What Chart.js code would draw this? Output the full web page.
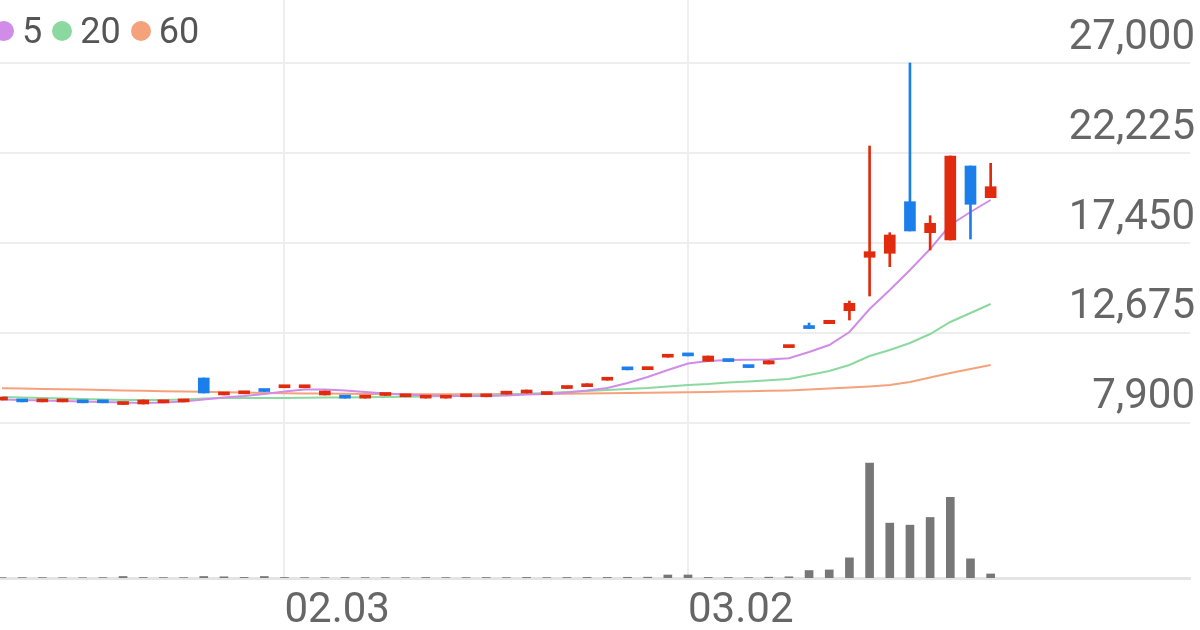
<!DOCTYPE html>
<html>
<head>
<meta charset="utf-8">
<script src="https://cdn.jsdelivr.net/npm/chart.js@4"></script>
<style>
  html, body { margin: 0; padding: 0; background: #fff; }
  #wrap { position: relative; width: 1200px; height: 630px; overflow: hidden; }
  #legend { position: absolute; left: -6px; top: 10px; display: flex; align-items: center;
            font-family: Roboto, sans-serif; font-size: 36px; line-height: 42px; color: #555; }
  .item { display: flex; align-items: center; margin-right: 10px; }
  .dot { width: 20px; height: 20px; border-radius: 50%; margin-right: 8px; }
</style>
</head>
<body>
<div id="wrap">
  <canvas id="chart"></canvas>
  <div id="legend"></div>
</div>
<script>
// daily candles, oldest first
const open  = [9120, 9110, 9020, 9020, 9060, 9060, 8880, 8908, 8970, 9020,
               10288, 9390, 9450, 9660, 9770, 9770, 9386, 9310, 9220, 9360,
               9290, 9220, 9220, 9290, 9290, 9430, 9492, 9410, 9730, 9826,
               10170, 10810, 10730, 11390, 11550, 11174, 11250, 10930, 11030, 11900,
               13000, 13169, 13858, 16692, 16904, 19642, 17997, 17609, 21536, 19854];
const close = [9220, 9020, 9110, 9110, 8970, 8970, 8970, 9120, 9060, 9110,
               9492, 9480, 9540, 9570, 9850, 9850, 9598, 9220, 9310, 9450,
               9380, 9310, 9310, 9380, 9380, 9520, 9651, 9500, 9820, 9985,
               10260, 10720, 10830, 11490, 11460, 11455, 11160, 10840, 11205, 11990,
               12910, 13349, 14251, 16989, 17875, 18088, 18496, 22066, 19504, 20437];
const high  = [9220, 9110, 9110, 9110, 9060, 9060, 8970, 9120, 9060, 9110,
               10288, 9480, 9540, 9660, 9850, 9850, 9598, 9310, 9310, 9450,
               9380, 9310, 9310, 9380, 9380, 9520, 9651, 9500, 9820, 9985,
               10260, 10810, 10830, 11490, 11550, 11455, 11250, 10930, 11205, 11990,
               13206, 13349, 14373, 22597, 17997, 27000, 18899, 22066, 21536, 21679];
const low   = [9120, 9020, 9020, 9020, 8970, 8970, 8880, 8908, 8970, 9020,
               9492, 9390, 9450, 9570, 9770, 9770, 9386, 9220, 9220, 9360,
               9290, 9220, 9220, 9290, 9290, 9430, 9492, 9410, 9730, 9826,
               10170, 10720, 10730, 11390, 11460, 11174, 11160, 10840, 11030, 11900,
               12910, 13169, 13365, 14638, 16193, 18088, 17079, 17609, 17662, 19854];
const volume = [40, 40, 40, 30, 30, 40, 150, 50, 40, 40,
                150, 120, 60, 150, 50, 40, 40, 50, 40, 40,
                40, 50, 40, 40, 50, 40, 60, 40, 50, 60,
                60, 70, 80, 300, 300, 60, 50, 40, 80, 120,
                740, 800, 2000, 11400, 5440, 5240, 6000, 8000, 1900, 400];

// moving averages
const ma5  = [9147, 9120, 9094, 9067, 9041, 9014, 8988, 8961, 8988, 9041,
              9147, 9253, 9333, 9439, 9571, 9678, 9678, 9624, 9545, 9465,
              9412, 9359, 9333, 9333, 9333, 9359, 9412, 9439, 9518, 9624,
              9757, 10022, 10341, 10712, 11057, 11190, 11243, 11253, 11269, 11333,
              11667, 12039, 12728, 13949, 14957, 16018, 17132, 18406, 19096, 19732];
const ma20 = [9280, 9253, 9227, 9200, 9173, 9147, 9120, 9120, 9120, 9147,
              9200, 9227, 9227, 9227, 9227, 9237, 9248, 9258, 9269, 9280,
              9290, 9306, 9333, 9359, 9386, 9412, 9449, 9492, 9545, 9598,
              9651, 9704, 9757, 9837, 9916, 9969, 10049, 10102, 10166, 10235,
              10447, 10659, 10977, 11455, 11773, 12145, 12622, 13259, 13737, 14214];
const ma60 = [9741, 9725, 9709, 9693, 9672, 9651, 9630, 9609, 9587, 9571,
              9555, 9534, 9513, 9497, 9481, 9471, 9460, 9449, 9439, 9433,
              9428, 9423, 9423, 9423, 9428, 9433, 9439, 9444, 9455, 9465,
              9481, 9492, 9502, 9518, 9534, 9550, 9566, 9587, 9609, 9630,
              9672, 9725, 9778, 9837, 9916, 10075, 10314, 10553, 10765, 10977];

const priceTicks = [7900, 12675, 17450, 22225, 27000];
const xTickIdx = [14, 34];
const xTickLabels = ['02.03', '03.02'];
const maNames = ['5', '20', '60'];
const maColors = ['#d18ce8', '#8cd9a0', '#f4a27c'];

const RED = '#e02b0e', BLUE = '#1a7fea';
const idx = open.map((_, i) => i);
const candleColor = idx.map(i => close[i] >= open[i] ? RED : BLUE);
const fmt = v => String(v).replace(/\B(?=(\d{3})+(?!\d))/g, ',');

// legend
const legend = document.getElementById('legend');
maNames.forEach((n, k) => {
  const it = document.createElement('div');
  it.className = 'item';
  it.innerHTML = '<span class="dot" style="background:' + maColors[k] + '"></span><span>' + n + '</span>';
  legend.appendChild(it);
});

const font = { family: 'Roboto', size: 42 };

new Chart(document.getElementById('chart'), {
  data: {
    datasets: [
      { type: 'bar', label: 'body', data: idx.map(i => ({ x: i, y: [open[i], close[i]] })),
        backgroundColor: candleColor, barThickness: 11, minBarLength: 3, grouped: false, yAxisID: 'y', order: 0 },
      { type: 'bar', label: 'wick', data: idx.map(i => ({ x: i, y: [low[i], high[i]] })),
        backgroundColor: candleColor, barThickness: 2, grouped: false, yAxisID: 'y', order: 1 },
      { type: 'line', label: maNames[0], data: idx.map(i => ({ x: i, y: ma5[i] })),
        borderColor: maColors[0], borderWidth: 2, pointRadius: 0, yAxisID: 'y', order: 2 },
      { type: 'line', label: maNames[1], data: idx.map(i => ({ x: i, y: ma20[i] })),
        borderColor: maColors[1], borderWidth: 2, pointRadius: 0, yAxisID: 'y', order: 3 },
      { type: 'line', label: maNames[2], data: idx.map(i => ({ x: i, y: ma60[i] })),
        borderColor: maColors[2], borderWidth: 2, pointRadius: 0, yAxisID: 'y', order: 4 },
      { type: 'bar', label: 'volume', data: idx.map(i => ({ x: i, y: volume[i] })),
        backgroundColor: '#777777', barThickness: 8, grouped: false, yAxisID: 'yv', order: 5 }
    ]
  },
  options: {
    responsive: true,
    maintainAspectRatio: false,
    animation: false,
    events: [],
    layout: { padding: 0 },
    plugins: { legend: { display: false }, tooltip: { enabled: false } },
    scales: {
      x: {
        type: 'linear', min: -0.099, max: 58.88, offset: false,
        afterBuildTicks: s => { s.ticks = xTickIdx.map(v => ({ value: v })); },
        afterFit: s => { s.paddingLeft = 0; s.paddingRight = 0; s.height = 52; },
        ticks: { callback: v => xTickLabels[xTickIdx.indexOf(v)], align: 'start', padding: 8,
                 font: font, color: '#666', maxRotation: 0, autoSkip: false },
        grid: { color: '#eeeeee', lineWidth: 2, drawTicks: false, offset: false },
        border: { color: '#e4e4e4', width: 3 }
      },
      y: {
        position: 'right', min: -324, max: 30343,
        afterBuildTicks: s => { s.ticks = priceTicks.map(v => ({ value: v })); },
        afterFit: s => { s.paddingTop = 0; s.paddingBottom = 0; },
        ticks: { mirror: true, labelOffset: -25, padding: 5, font: font, color: '#666', callback: v => fmt(v) },
        grid: { color: '#eeeeee', lineWidth: 2, drawTicks: false },
        border: { display: false }
      },
      yv: { display: false, min: 0, max: 57300 }
    }
  }
});
</script>
</body>
</html>
